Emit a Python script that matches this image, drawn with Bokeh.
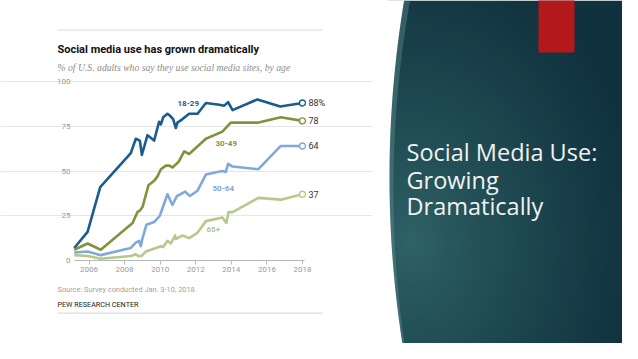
import numpy as np
from bokeh.plotting import figure
from bokeh.models import Range1d, LinearAxis, Grid, FixedTicker
from bokeh.embed import file_html
from bokeh.resources import INLINE
from bokeh.core.properties import value

# ---------------- data ----------------
series_names = ["18-29", "30-49", "50-64", "65+"]

x_1829 = [2005.17, 2005.92, 2006.63, 2008.35, 2008.63, 2008.86, 2008.97, 2009.29, 2009.66,
          2009.94, 2010.04, 2010.17, 2010.41, 2010.54, 2010.73, 2010.88, 2010.97, 2011.26,
          2011.63, 2012.10, 2012.57, 2013.32, 2013.60, 2013.82, 2014.07, 2015.47, 2016.75, 2018.0]
y_1829 = [7, 16, 41, 60, 68, 67, 59, 70, 67,
          77.5, 76, 80, 82, 81, 79, 74, 77, 79,
          82, 82, 88, 87, 86.5, 88.5, 84, 90, 86, 88]

x_3049 = [2005.17, 2005.92, 2006.66, 2008.45, 2008.72, 2008.87, 2009.01, 2009.34, 2009.66,
          2009.85, 2010.04, 2010.32, 2010.51, 2010.69, 2011.03, 2011.35, 2011.63, 2012.57,
          2013.50, 2013.97, 2015.47, 2016.78, 2018.0]
y_3049 = [6, 9.5, 6, 21, 27, 28, 30, 42, 44.5,
          47, 51, 53, 53, 52, 55, 61, 59.5, 68,
          72, 77, 77, 80, 78]

x_5064 = [2005.17, 2005.92, 2006.66, 2008.35, 2008.63, 2008.82, 2008.91, 2009.01, 2009.23,
          2009.66, 2009.98, 2010.41, 2010.69, 2010.94, 2011.41, 2011.67, 2012.10, 2012.57,
          2013.50, 2013.69, 2013.82, 2014.07, 2015.52, 2016.78, 2018.0]
y_5064 = [4.5, 5, 3, 7, 10, 11, 8, 12.5, 20,
          21.5, 25, 37, 31, 36, 38.5, 36, 39, 48,
          50, 49.5, 54, 52.5, 51, 64, 64]

x_65 = [2005.17, 2005.92, 2006.66, 2008.35, 2008.63, 2008.76, 2008.95, 2009.19, 2009.76,
        2010.04, 2010.17, 2010.41, 2010.60, 2010.84, 2010.88, 2011.26, 2011.63, 2012.10,
        2012.57, 2013.50, 2013.72, 2013.84, 2014.07, 2015.52, 2016.78, 2018.0]
y_65 = [3, 2.5, 1, 2.5, 3.5, 2.5, 2.5, 5, 7,
        8, 7.5, 11, 9.5, 14, 12, 14, 12.5, 15.5,
        22, 24, 21, 27, 27, 35, 34, 37]

end_labels = ["88%", "78", "64", "37"]
x_ticks = [2006, 2008, 2010, 2012, 2014, 2016, 2018]
y_ticks = [0, 25, 50, 75, 100]

# ---------------- geometry helpers (page pixels -> data) ----------------
PX_PER_YEAR = 17.79
PX_PER_PCT = 1.79


def X(px):
    return 2006 + (px - 96.5) / PX_PER_YEAR


def Y(py):
    return (268 - py) / PX_PER_PCT


FONT = value("Roboto")
colors = ["#1b5b8d", "#82923c", "#80a9da", "#b5c98b"]
label_colors = ["#1f5e8c", "#86953f", "#7ca5d6", "#b0c488"]

p = figure(width=622, height=343, output_backend="svg", toolbar_location=None,
           x_range=Range1d(X(8), X(630)), y_range=Range1d(Y(351), Y(8)),
           x_axis_type=None, y_axis_type=None,
           min_border_left=0, min_border_right=0, min_border_top=0, min_border_bottom=0)
p.outline_line_color = None
p.background_fill_color = "white"
p.border_fill_color = "white"

# ---------------- right panel (slide decoration) ----------------
W, H = 235, 343
gx = 395 + (np.arange(W) + 0.5) * (235 / W)
gpy = 351 - (np.arange(H) + 0.5) * (343 / H)
GX, GPY = np.meshgrid(gx, gpy)
d = np.sqrt((GX - 420) ** 2 + ((GPY - 250) / 1.3) ** 2)
t = np.clip(d / 230.0, 0, 1) ** 0.8
light = np.array([48, 100, 104])
dark = np.array([16, 50, 62])
rgb = light[None, None, :] * (1 - t[..., None]) + dark[None, None, :] * t[..., None]
img = np.empty((H, W, 4), dtype=np.uint8)
img[..., :3] = rgb.astype(np.uint8)
img[..., 3] = 255
p.image_rgba(image=[img.view(np.uint32).reshape(H, W)], x=X(395), y=Y(351),
             dw=X(630) - X(395), dh=Y(8) - Y(351))

pys = np.linspace(0, 359, 120)
edge = 397 + 16 * ((pys - 185) / 185) ** 2
band_w = 6 - 4 * (pys / 359)
band_x = [X(v) for v in edge] + [X(v) for v in (edge + band_w)[::-1]]
band_y = [Y(v) for v in pys] + [Y(v) for v in pys[::-1]]
p.patch(band_x, band_y, fill_color="#6f9f9f", fill_alpha=0.35, line_color=None)
mask_x = [X(v) for v in edge] + [X(380), X(380)]
mask_y = [Y(v) for v in pys] + [Y(359), Y(0)]
p.patch(mask_x, mask_y, fill_color="white", line_color=None)

p.quad(left=[X(546)], right=[X(582)], bottom=[Y(60)], top=[Y(0)],
       fill_color="#b3191a", line_color=None)

p.text(x=[X(414)] * 3, y=[Y(159.3), Y(187.0), Y(213.7)],
       text=["Social Media Use:", "Growing", "Dramatically"],
       text_font=value("Open Sans"), text_font_size="23.5px", text_color="#f2f2f2",
       text_baseline="alphabetic", text_align="left")

# ---------------- chart ----------------
grid = Grid(dimension=1, ticker=FixedTicker(ticks=y_ticks[1:]), bounds=(X(80), X(312)),
            grid_line_color="#e6e6e6")
p.add_layout(grid)

xaxis = LinearAxis(fixed_location=0, ticker=FixedTicker(ticks=x_ticks), bounds=(X(82), X(312)))
xaxis.axis_line_color = "#b8b8b8"
xaxis.major_tick_line_color = "#b8b8b8"
xaxis.major_tick_out = 4
xaxis.major_tick_in = 0
xaxis.minor_tick_line_color = None
xaxis.major_label_standoff = 2
yaxis = LinearAxis(fixed_location=X(80), ticker=FixedTicker(ticks=y_ticks))
yaxis.axis_line_color = None
yaxis.major_tick_line_color = None
yaxis.minor_tick_line_color = None
yaxis.major_tick_out = 0
yaxis.major_tick_in = 0
yaxis.major_label_standoff = 2
for ax in (xaxis, yaxis):
    ax.major_label_text_font_size = "8px"
    ax.major_label_text_color = "#9a9a9a"
    ax.major_label_text_font = "Roboto"
p.add_layout(xaxis, "below")
p.add_layout(yaxis, "left")

xs_all = [x_1829, x_3049, x_5064, x_65]
ys_all = [y_1829, y_3049, y_5064, y_65]
for xs, ys, c in zip(xs_all, ys_all, colors):
    p.line(xs, ys, line_color=c, line_width=2.6, line_join="round")
for xs, ys, c in zip(xs_all, ys_all, colors):
    p.scatter([xs[-1]], [ys[-1]], marker="circle", size=6, fill_color="white",
              line_color=c, line_width=1.4)

p.text(x=[X(316)] * 4, y=[ys[-1] for ys in ys_all], text=end_labels,
       text_font=FONT, text_font_size="9px", text_color="#333333",
       text_baseline="middle", text_align="left")

lab_pos = [(185, 110.7), (223, 151), (220, 195.7), (214, 237)]
p.text(x=[X(a) for a, b in lab_pos], y=[Y(b) for a, b in lab_pos],
       text=series_names, text_font=FONT, text_font_size="8px", text_font_style="bold",
       text_color=label_colors, text_baseline="middle", text_align="left")

# title block & footer
p.text(x=[X(65)], y=[Y(56.7)], text=["Social media use has grown dramatically"],
       text_font=FONT, text_font_size="11px", text_font_style="bold",
       text_color="#111111", text_baseline="alphabetic")
p.text(x=[X(65)], y=[Y(75)], text=["% of U.S. adults who say they use social media sites, by age"],
       text_font=value("Liberation Serif"), text_font_size="9.7px", text_font_style="italic",
       text_color="#8c8c8c", text_baseline="alphabetic")
p.text(x=[X(65)], y=[Y(297)], text=["Source: Survey conducted Jan. 3-10, 2018."],
       text_font=FONT, text_font_size="7.4px", text_color="#a0a0a0", text_baseline="alphabetic")
p.text(x=[X(65)], y=[Y(311.5)], text=["PEW RESEARCH CENTER"],
       text_font=FONT, text_font_size="7.2px", text_color="#222222", text_baseline="alphabetic")
for ry in (37.5, 320.7):
    p.line([X(65), X(330)], [Y(ry), Y(ry)], line_color="#dcdcdc", line_width=1.2)

open("out.html", "w").write(file_html(p, INLINE))
